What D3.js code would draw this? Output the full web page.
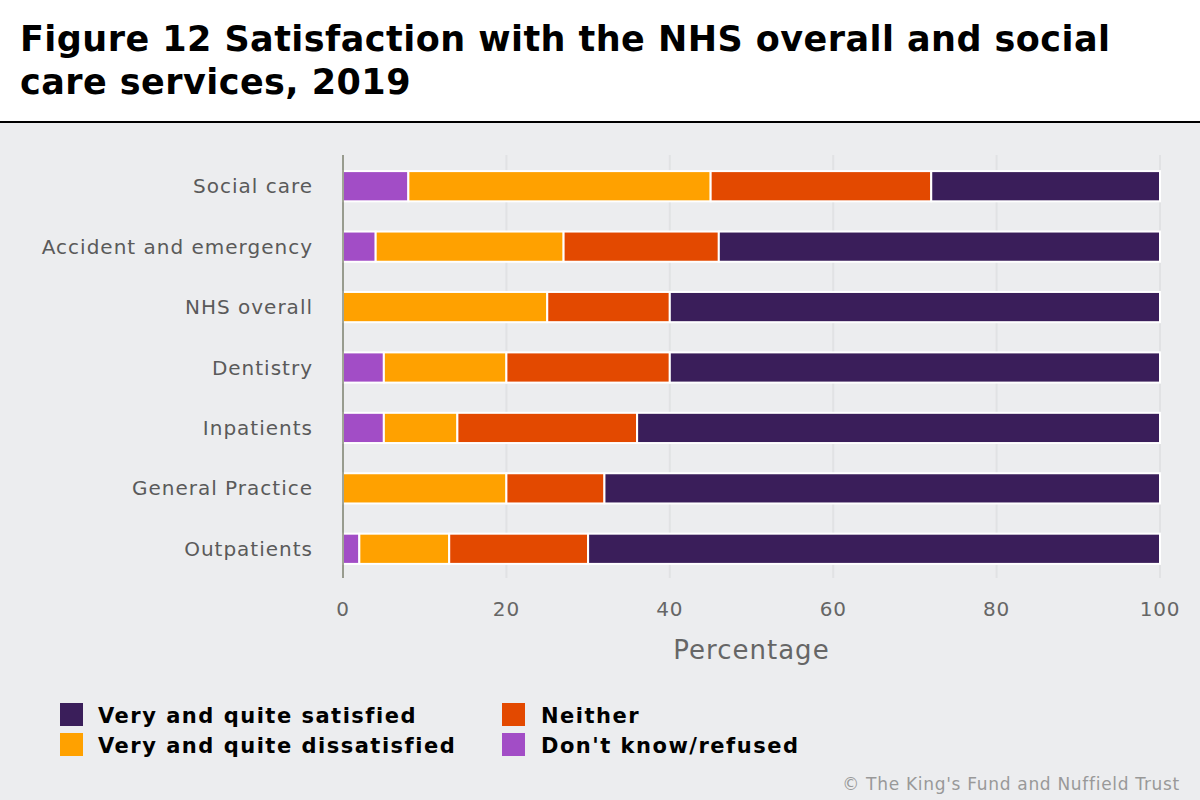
<!DOCTYPE html>
<html>
<head>
<meta charset="utf-8">
<script src="https://cdn.jsdelivr.net/npm/d3@7"></script>
<style>
  html, body { margin: 0; padding: 0; background: #ecedef; }
  svg { display: block; font-family: "DejaVu Sans", Verdana, sans-serif; }
</style>
</head>
<body>
<svg id="chart"></svg>
<script>
// Data (percentages)
const categories = ['Social care', 'Accident and emergency', 'NHS overall', 'Dentistry', 'Inpatients', 'General Practice', 'Outpatients'];
const dontKnow     = [8, 4, 0, 5, 5, 0, 2];
const dissatisfied = [37, 23, 25, 15, 9, 20, 11];
const neither      = [27, 19, 15, 20, 22, 12, 17];
const satisfied    = [28, 54, 60, 60, 64, 68, 70];
const xTicks = [0, 20, 40, 60, 80, 100];

const seriesKeys = ['dontKnow', 'dissatisfied', 'neither', 'satisfied'];
const seriesColors = { dontKnow: '#a24dc6', dissatisfied: '#ffa100', neither: '#e34900', satisfied: '#3a1e5a' };

const width = 1200, height = 800;
const margin = { top: 155, right: 40, bottom: 222, left: 343 };

const svg = d3.select('#chart').attr('width', width).attr('height', height);

// Header
svg.append('rect').attr('x', 0).attr('y', 0).attr('width', width).attr('height', 122).attr('fill', '#fff');
svg.append('rect').attr('x', 0).attr('y', 121).attr('width', width).attr('height', 2).attr('fill', '#000');
const title = svg.append('text').attr('x', 20).attr('fill', '#000')
  .attr('font-size', '35px').attr('font-weight', 'bold').attr('letter-spacing', '0.45px');
title.append('tspan').attr('x', 20).attr('y', 51).text('Figure 12 Satisfaction with the NHS overall and social');
title.append('tspan').attr('x', 20).attr('y', 94).text('care services, 2019');

// Build rows and stack
const rows = categories.map((c, i) => ({
  cat: c, dontKnow: dontKnow[i], dissatisfied: dissatisfied[i], neither: neither[i], satisfied: satisfied[i]
}));
const stacked = d3.stack().keys(seriesKeys)(rows);

const x = d3.scaleLinear().domain([0, 100]).range([margin.left, 1160]);
const y = d3.scaleBand().domain(categories).range([margin.top, height - margin.bottom]).paddingInner(0.5).paddingOuter(0.25);

// Gridlines
svg.append('g').selectAll('line').data(xTicks.filter(t => t > 0)).join('line')
  .attr('x1', d => x(d)).attr('x2', d => x(d))
  .attr('y1', margin.top).attr('y2', height - margin.bottom)
  .attr('stroke', '#e1e2e4').attr('stroke-width', 2);

// Bars
svg.append('g').selectAll('g').data(stacked).join('g')
  .attr('fill', d => seriesColors[d.key])
  .selectAll('rect').data(d => d).join('rect')
  .attr('x', d => x(d[0]))
  .attr('y', d => y(d.data.cat) + 1)
  .attr('width', d => Math.max(0, x(d[1]) - x(d[0])))
  .attr('height', y.bandwidth())
  .attr('stroke', '#fff').attr('stroke-width', 2)
  .attr('display', d => d[1] - d[0] > 0 ? null : 'none');

// Y axis line
svg.append('line')
  .attr('x1', x(0)).attr('x2', x(0))
  .attr('y1', margin.top).attr('y2', height - margin.bottom)
  .attr('stroke', '#454a2e').attr('stroke-width', 1);

// Category labels
svg.append('g').selectAll('text').data(categories).join('text')
  .attr('x', 313).attr('y', d => y(d) + y.bandwidth() / 2 + 8)
  .attr('text-anchor', 'end').attr('fill', '#5a5a5a').attr('font-size', '20px')
  .attr('letter-spacing', '1px')
  .text(d => d);

// X tick labels
svg.append('g').selectAll('text').data(xTicks).join('text')
  .attr('x', d => x(d)).attr('y', 616)
  .attr('text-anchor', 'middle').attr('fill', '#666').attr('font-size', '20px')
  .attr('letter-spacing', '0.8px')
  .text(d => d);

svg.append('text').attr('x', x(50)).attr('y', 659)
  .attr('text-anchor', 'middle').attr('fill', '#666').attr('font-size', '26px')
  .attr('letter-spacing', '1px')
  .text('Percentage');

// Legend
const legendItems = [
  { key: 'satisfied', label: 'Very and quite satisfied', col: 0, row: 0 },
  { key: 'dissatisfied', label: 'Very and quite dissatisfied', col: 0, row: 1 },
  { key: 'neither', label: 'Neither', col: 1, row: 0 },
  { key: 'dontKnow', label: "Don't know/refused", col: 1, row: 1 }
];
const lg = svg.append('g').selectAll('g').data(legendItems).join('g')
  .attr('transform', d => `translate(${d.col ? 502 : 60}, ${703 + d.row * 30})`);
lg.append('rect').attr('width', 23).attr('height', 23).attr('fill', d => seriesColors[d.key]);
lg.append('text').attr('x', d => d.col ? 39 : 38).attr('y', 20)
  .attr('font-size', '21px').attr('font-weight', 'bold').attr('fill', '#000')
  .attr('letter-spacing', '1.5px')
  .text(d => d.label);

// Source
svg.append('text').attr('x', 1180).attr('y', 790)
  .attr('text-anchor', 'end').attr('fill', '#999').attr('font-size', '17px')
  .attr('letter-spacing', '0.7px')
  .text('© The King\'s Fund and Nuffield Trust');
</script>
</body>
</html>
